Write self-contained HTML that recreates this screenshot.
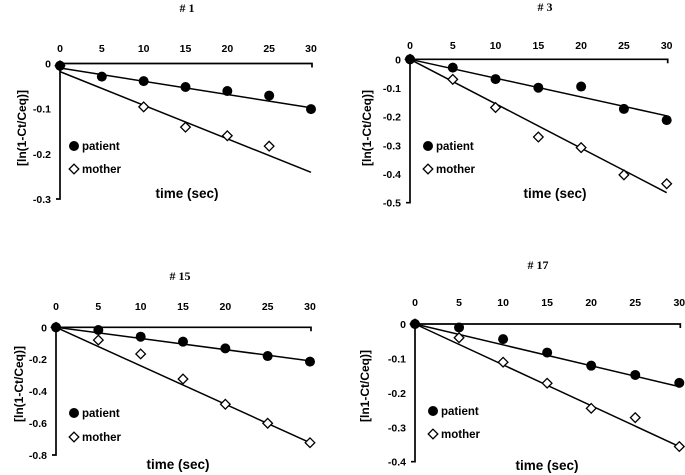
<!DOCTYPE html>
<html><head><meta charset="utf-8"><style>
html,body{margin:0;padding:0;background:#fff;}
svg{display:block;font-family:"Liberation Sans",Arial,sans-serif;font-weight:bold;}
</style></head><body>
<svg id="fig" width="685" height="475" viewBox="0 0 685 475"></svg>
<script>
const times = [0,5,10,15,20,25,30];
const xTicks = [0,5,10,15,20,25,30];
// panel #1
const p1Patient = [-0.005,-0.029,-0.039,-0.052,-0.061,-0.071,-0.101];
const p1Mother = [-0.005,null,-0.096,-0.141,-0.160,-0.183,null];
const p1PatientFit = [-0.010,-0.098];
const p1MotherFit = [-0.018,-0.241];
const p1YTicks = [0,-0.1,-0.2,-0.3];
const p1YLabels = ["0","-0.1","-0.2","-0.3"];
// panel #3
const p3Patient = [0,-0.029,-0.069,-0.099,-0.095,-0.173,-0.212];
const p3Mother = [0,-0.070,-0.168,-0.271,-0.308,-0.403,-0.434];
const p3PatientFit = [0,-0.197];
const p3MotherFit = [0,-0.465];
const p3YTicks = [0,-0.1,-0.2,-0.3,-0.4,-0.5];
const p3YLabels = ["0","-0.1","-0.2","-0.3","-0.4","-0.5"];
// panel #15
const p15Patient = [0,-0.017,-0.059,-0.090,-0.132,-0.180,-0.215];
const p15Mother = [0,-0.080,-0.167,-0.324,-0.482,-0.601,-0.723];
const p15PatientFit = [0,-0.210];
const p15MotherFit = [0,-0.723];
const p15YTicks = [0,-0.2,-0.4,-0.6,-0.8];
const p15YLabels = ["0","-0.2","-0.4","-0.6","-0.8"];
// panel #17
const p17Patient = [0,-0.010,-0.044,-0.083,-0.121,-0.148,-0.171];
const p17Mother = [0,-0.040,-0.111,-0.172,-0.245,-0.272,-0.356];
const p17PatientFit = [0,-0.182];
const p17MotherFit = [0,-0.356];
const p17YTicks = [0,-0.1,-0.2,-0.3,-0.4];
const p17YLabels = ["0","-0.1","-0.2","-0.3","-0.4"];

const NS="http://www.w3.org/2000/svg";
const svg=document.getElementById('fig');
function mk(tag,attrs,parent,text){const e=document.createElementNS(NS,tag);for(const k in attrs)e.setAttribute(k,attrs[k]);if(text!==undefined)e.textContent=text;(parent||svg).appendChild(e);return e;}

function panel(cfg){
  const g=mk('g',{});
  
  
  const xs=t=>cfg.x0+(cfg.x30-cfg.x0)*t/30;
  const ys=v=>cfg.y0+(cfg.yMin-cfg.y0)*(v/cfg.minVal);
  const t=mk('text',{x:cfg.titleX,y:cfg.titleY,'text-anchor':'middle','font-family':'Liberation Serif,serif','font-size':12},g,'# '+cfg.id);
  
  
  const xa=mk('path',{d:`M${cfg.x0},${cfg.y0}H${xs(30)+1}v4`,stroke:'#000','stroke-width':1.7,fill:'none'},g);
  
  
  const ya=mk('path',{d:`M${cfg.x0},${cfg.y0}V${cfg.yMin}h-4`,stroke:'#000','stroke-width':1.7,fill:'none'},g);
  
  
  xTicks.forEach(v=>{
    const l=mk('text',{x:xs(v),y:cfg.tickY,'text-anchor':'middle','font-size':10.5},g,String(v));
    
    
  });
  cfg.yTicks.forEach((v,i)=>{
    const l=mk('text',{x:cfg.x0-9,y:ys(v)+4,'text-anchor':'end','font-size':10.5},g,cfg.yLabels[i]);
    
    
  });
  const yt=mk('text',{x:0,y:0,transform:`translate(${cfg.yTitleX},${cfg.yTitleY}) rotate(-90)`,'text-anchor':'middle','font-size':12},g,cfg.yTitle);
  
  
  const xt=mk('text',{x:cfg.xTitleX,y:cfg.xTitleY,'text-anchor':'middle','font-size':13.5},g,'time (sec)');
  
  
  const lp=mk('line',{x1:xs(0),y1:ys(cfg.pFit[0]),x2:xs(30),y2:ys(cfg.pFit[1]),stroke:'#000','stroke-width':1.5},g);
  
  
  const lm=mk('line',{x1:xs(0),y1:ys(cfg.mFit[0]),x2:xs(30),y2:ys(cfg.mFit[1]),stroke:'#000','stroke-width':1.5},g);
  
  
  cfg.mother.forEach((v,i)=>{
    if(v===null)return;
    const cx=xs(times[i]),cy=ys(v);
    const d=mk('path',{d:`M${cx},${cy-4.8}L${cx+4.8},${cy}L${cx},${cy+4.8}L${cx-4.8},${cy}Z`,fill:'#fff',stroke:'#000','stroke-width':1.3},g);
    
    
  });
  cfg.patient.forEach((v,i)=>{
    const c=mk('circle',{cx:xs(times[i]),cy:ys(v),r:5,fill:'#000'},g);
    
    
  });
  const lg=mk('g',{},g);
  
  
  mk('circle',{cx:cfg.legX,cy:cfg.legY,r:5,fill:'#000'},lg);
  const t1=mk('text',{x:cfg.legX+8,y:cfg.legY+4,'font-size':11.5},lg,'patient');
  
  
  const my=cfg.legY+cfg.legGap;
  mk('path',{d:`M${cfg.legX},${my-4.8}L${cfg.legX+4.8},${my}L${cfg.legX},${my+4.8}L${cfg.legX-4.8},${my}Z`,fill:'#fff',stroke:'#000','stroke-width':1.3},lg);
  const t2=mk('text',{x:cfg.legX+8,y:my+4,'font-size':11.5},lg,'mother');
  
  
}

panel({id:'1',x0:60,x30:311,y0:63.5,yMin:199,minVal:-0.3,patient:p1Patient,mother:p1Mother,pFit:p1PatientFit,mFit:p1MotherFit,yTicks:p1YTicks,yLabels:p1YLabels,titleX:187,titleY:12,tickY:52,yTitle:'[ln(1-Ct/Ceq)]',yTitleX:26,yTitleY:128,xTitleX:187,xTitleY:198,legX:74,legY:146,legGap:23});
panel({id:'3',x0:410,x30:666.7,y0:59.3,yMin:202.7,minVal:-0.5,patient:p3Patient,mother:p3Mother,pFit:p3PatientFit,mFit:p3MotherFit,yTicks:p3YTicks,yLabels:p3YLabels,titleX:545,titleY:11,tickY:49,yTitle:'[ln(1-Ct/Ceq)]',yTitleX:371,yTitleY:128,xTitleX:555,xTitleY:198,legX:428,legY:146,legGap:23});
panel({id:'15',x0:56,x30:310,y0:327.3,yMin:455,minVal:-0.8,patient:p15Patient,mother:p15Mother,pFit:p15PatientFit,mFit:p15MotherFit,yTicks:p15YTicks,yLabels:p15YLabels,titleX:180,titleY:280,tickY:310,yTitle:'[ln(1-Ct/Ceq)]',yTitleX:23,yTitleY:384,xTitleX:178,xTitleY:469,legX:74,legY:413,legGap:24});
panel({id:'17',x0:415,x30:679.3,y0:324,yMin:461.7,minVal:-0.4,patient:p17Patient,mother:p17Mother,pFit:p17PatientFit,mFit:p17MotherFit,yTicks:p17YTicks,yLabels:p17YLabels,titleX:538,titleY:269,tickY:306,yTitle:'[ln1-Ct/Ceq)]',yTitleX:369,yTitleY:386,xTitleX:547,xTitleY:470,legX:433,legY:411,legGap:23});
</script>
</body></html>
